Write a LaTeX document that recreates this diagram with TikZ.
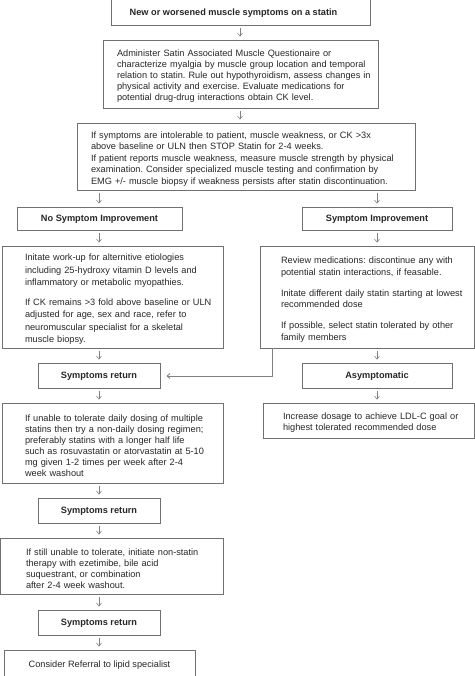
\documentclass[tikz,border=0pt]{standalone}
\usepackage{fontspec}
\setmainfont{Liberation Sans}
\usetikzlibrary{arrows.meta,calc}
\definecolor{edge}{HTML}{707070}
\definecolor{arrowc}{HTML}{808080}
\newcommand{\tline}[1]{\mbox{#1}}
\frenchspacing
\tikzset{
  box/.style={draw=edge, line width=0.9pt, inner sep=0pt, font=\fontsize{9.2}{11}\selectfont, text=black!85},
  txtbox/.style={box, align=left, execute at begin node={\rule{0pt}{11.5pt}}},
  headbox/.style={box, font=\fontsize{9.2}{11}\selectfont\bfseries, align=center, execute at begin node={\rule{0pt}{8.5pt}}},
  arr/.style={draw=arrowc, line width=0.6pt, -{Straight Barb[length=3pt,width=5pt]}, shorten <=3pt, shorten >=3pt},
}
\begin{document}
\frenchspacing
\begin{tikzpicture}[x=1pt,y=-1pt]
\useasboundingbox (0,0) rectangle (474,676);
% boxes
\node[headbox, minimum width=259pt, minimum height=26pt] (B1) at (240.5,12) {\hspace*{-14pt}New or worsened muscle symptoms on a statin};
\node[txtbox, minimum width=275pt, minimum height=68pt, text width=247pt] (B2) at (240.5,74) {\tline{Administer Satin Associated Muscle Questionaire or}\\\tline{characterize myalgia by muscle group location and temporal}\\\tline{relation to statin. Rule out hypothyroidism, assess changes in}\\\tline{physical activity and exercise. Evaluate medications for}\\\tline{potential drug-drug interactions obtain CK level.}};
\node[txtbox, minimum width=338pt, minimum height=67pt, text width=310pt, font=\fontsize{9.2}{11.4}\selectfont] (B3) at (246,156.5) {\tline{If symptoms are intolerable to patient, muscle weakness, or CK >3x}\\\tline{above baseline or ULN then STOP Statin for 2-4 weeks.}\\\tline{If patient reports muscle weakness, measure muscle strength by physical}\\\tline{examination. Consider specialized muscle testing and confirmation by}\\\tline{EMG +/- muscle biopsy if weakness persists after statin discontinuation.}};
\node[headbox, minimum width=165pt, minimum height=23pt] (NSI) at (99.5,218.5) {No Symptom Improvement};
\node[headbox, minimum width=150pt, minimum height=23pt] (SI) at (377,218.5) {Symptom Improvement};
\node[txtbox, minimum width=221pt, minimum height=102pt, text width=175pt, font=\fontsize{9.2}{12.6}\selectfont] (L4) at (112.5,297) {\tline{Initate work-up for alternitive etiologies}\\\tline{including 25-hydroxy vitamin D levels and}\\\tline{inflammatory or metabolic myopathies.}\\[6.7pt]\tline{If CK remains >3 fold above baseline or ULN}\\\tline{adjusted for age, sex and race, refer to}\\\tline{neuromuscular specialist for a skeletal}\\\tline{muscle biopsy.}};
\node[txtbox, minimum width=214pt, minimum height=102pt, text width=172pt, font=\fontsize{9.2}{11.5}\selectfont] (R4) at (367,297) {\tline{Review medications: discontinue any with}\\\tline{potential statin interactions, if feasable.}\\[9.5pt]\tline{Initate different daily statin starting at lowest}\\\tline{recommended dose}\\[9.5pt]\tline{If possible, select statin tolerated by other}\\\tline{family members}};
\node[headbox, minimum width=122pt, minimum height=25pt] (SR1) at (99,375.5) {Symptoms return};
\node[headbox, minimum width=150pt, minimum height=25pt] (AS) at (377,375.5) {Asymptomatic};
\node[txtbox, minimum width=221pt, minimum height=80pt, text width=175pt] (L5) at (112.5,443) {\tline{If unable to tolerate daily dosing of multiple}\\\tline{statins then try a non-daily dosing regimen;}\\\tline{preferably statins with a longer half life}\\\tline{such as rosuvastatin or atorvastatin at 5-10}\\\tline{mg given 1-2 times per week after 2-4}\\\tline{week washout}};
\node[txtbox, minimum width=211pt, minimum height=35pt, text width=171pt] (R5) at (368.5,420.5) {\tline{Increase dosage to achieve LDL-C goal or}\\\tline{highest tolerated recommended dose}};
\node[headbox, minimum width=122pt, minimum height=25pt] (SR2) at (99,510.5) {Symptoms return};
\node[txtbox, minimum width=222.5pt, minimum height=56pt, text width=171.5pt] (L6) at (111.75,566) {\tline{If still unable to tolerate, initiate non-statin}\\\tline{therapy with ezetimibe, bile acid}\\\tline{suquestrant, or combination}\\\tline{after 2-4 week washout.}};
\node[headbox, minimum width=122pt, minimum height=25pt] (SR3) at (99,622.5) {Symptoms return};
\node[box, minimum width=191pt, minimum height=29pt, execute at begin node={\rule{0pt}{8.5pt}}] (LS) at (99.5,664.5) {Consider Referral to lipid specialist};
% connectors
\draw[arr] (240,0 |- B1.south) -- (240,0 |- B2.north);
\draw[arr] (240,0 |- B2.south) -- (240,0 |- B3.north);
\draw[arr] (99,0 |- B3.south) -- (99,0 |- NSI.north);
\draw[arr] (377,0 |- B3.south) -- (377,0 |- SI.north);
\draw[arr] (99,0 |- NSI.south) -- (99,0 |- L4.north);
\draw[arr] (377,0 |- SI.south) -- (377,0 |- R4.north);
\draw[arr] (99,0 |- L4.south) -- (99,0 |- SR1.north);
\draw[arr] (377,0 |- R4.south) -- (377,0 |- AS.north);
\draw[arr] (99,0 |- SR1.south) -- (99,0 |- L5.north);
\draw[arr] (377,0 |- AS.south) -- (377,0 |- R5.north);
\draw[arr] (99,0 |- L5.south) -- (99,0 |- SR2.north);
\draw[arr] (99,0 |- SR2.south) -- (99,0 |- L6.north);
\draw[arr] (99,0 |- L6.south) -- (99,0 |- SR3.north);
\draw[arr] (99,0 |- SR3.south) -- (99,0 |- LS.north);
\coordinate (elb) at (272.5,376);
\draw[draw=arrowc, line width=0.8pt, -{Straight Barb[length=3pt,width=5pt]}, shorten >=6pt] (elb |- R4.south) -- (elb) -- (elb -| SR1.east);
\end{tikzpicture}
\end{document}
